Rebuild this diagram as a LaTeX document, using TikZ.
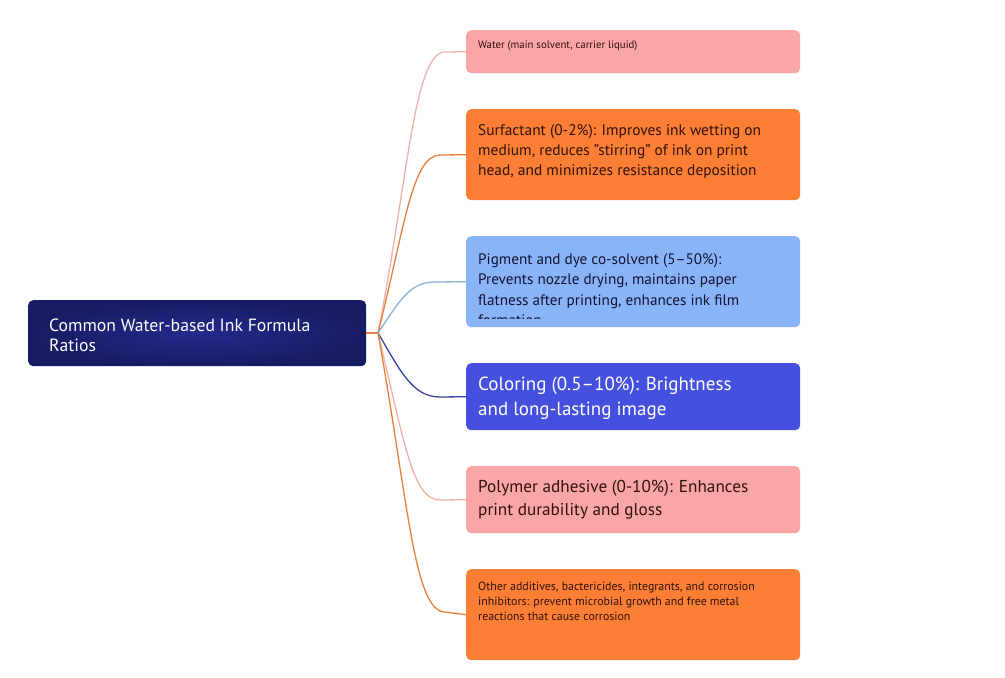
\documentclass[tikz,border=0pt]{standalone}
\usepackage{fontspec}
\setmainfont{PT Sans}
\definecolor{rootc}{HTML}{1C2170}
\definecolor{rootin}{HTML}{242A8C}
\definecolor{rootout}{HTML}{171B62}
\definecolor{pinkc}{HTML}{FBA6A6}
\definecolor{orangec}{HTML}{FD7E35}
\definecolor{lbluec}{HTML}{8AB4F8}
\definecolor{bluec}{HTML}{4650DE}
\definecolor{pinkln}{HTML}{F2B1A8}
\definecolor{orangeln}{HTML}{E8803E}
\definecolor{lblueln}{HTML}{8EB2D8}
\definecolor{blueln}{HTML}{3A449E}
\definecolor{darktxt}{HTML}{2E120C}
\definecolor{navytxt}{HTML}{121330}
\begin{document}
\begin{tikzpicture}[x=1pt,y=-1pt,
  box/.style={rectangle, rounded corners=5pt, inner sep=0pt, anchor=north west, minimum width=334pt},
  txt/.style={anchor=base west, inner sep=0pt, align=left},
  conn/.style={line width=1.3pt}]
\useasboundingbox[fill=white] (0,0) rectangle (1005,678);
% root
\node[box, inner color=rootin, outer color=rootout, minimum width=338pt, minimum height=66pt] (root) at (28,300) {};
\node[txt, text=white, font=\fontsize{17.7}{19.5}\selectfont] (roott) at (49,351) {Common Water-based Ink Formula\\Ratios};
\coordinate (hub) at (378,333);
% boxes
\node[box, fill=pinkc, minimum height=43pt] (water) at (466,30) {};
\node[txt, text=darktxt, font=\fontsize{10.8}{12}\selectfont] (watert) at (478,48.8) {Water (main solvent, carrier liquid)};
\node[box, fill=orangec, minimum height=91pt] (surf) at (466,109) {};
\node[txt, text=darktxt, font=\fontsize{15.4}{20}\selectfont] (surft) at (478,175.5) {Surfactant (0-2\%): Improves ink wetting on\\medium, reduces \symbol{"22}stirring\symbol{"22} of ink on print\\head, and minimizes resistance deposition};
\node[box, fill=lbluec, minimum height=91pt] (pig) at (466,236) {};
\begin{scope}
\clip (466,236) rectangle (800,318);
\node[txt, text=navytxt, font=\fontsize{15.2}{20.5}\selectfont] (pigt) at (478,325.5) {Pigment and dye co-solvent (5–50\%):\\Prevents nozzle drying, maintains paper\\flatness after printing, enhances ink film\\formation};
\end{scope}
\node[box, fill=bluec, minimum height=67pt] (col) at (466,363) {};
\node[txt, text=white, font=\fontsize{19}{25}\selectfont] (colt) at (478,415.5) {Coloring (0.5–10\%): Brightness\\and long-lasting image};
\node[box, fill=pinkc, minimum height=67pt] (poly) at (466,466) {};
\node[txt, text=darktxt, font=\fontsize{17.2}{22.5}\selectfont] (polyt) at (478,515) {Polymer adhesive (0-10\%): Enhances\\print durability and gloss};
\node[box, fill=orangec, minimum height=91pt] (oth) at (466,569) {};
\node[txt, text=darktxt, font=\fontsize{11.9}{15}\selectfont] (otht) at (478,620) {Other additives, bactericides, integrants, and corrosion\\inhibitors: prevent microbial growth and free metal\\reactions that cause corrosion};
% connectors
\draw[conn, orangeln] (root.east |- hub) -- (hub);
\draw[conn, pinkln] (hub) .. controls (408,180) and (414,52) .. (445,52) -- (water.west);
\draw[conn, orangeln] (hub) .. controls (404,230) and (412,155) .. (440,155) -- (surf.west);
\draw[conn, lblueln] (hub) .. controls (400,300) and (410,282) .. (435,282) -- (pig.west);
\draw[conn, blueln] (hub) .. controls (400,370) and (412,397) .. (440,397) -- (col.west);
\draw[conn, pinkln] (hub) .. controls (404,440) and (412,500) .. (440,500) -- (poly.west);
\draw[conn, orangeln] (hub) .. controls (408,500) and (414,612) .. (445,612) -- (oth.west);
\end{tikzpicture}
\end{document}
